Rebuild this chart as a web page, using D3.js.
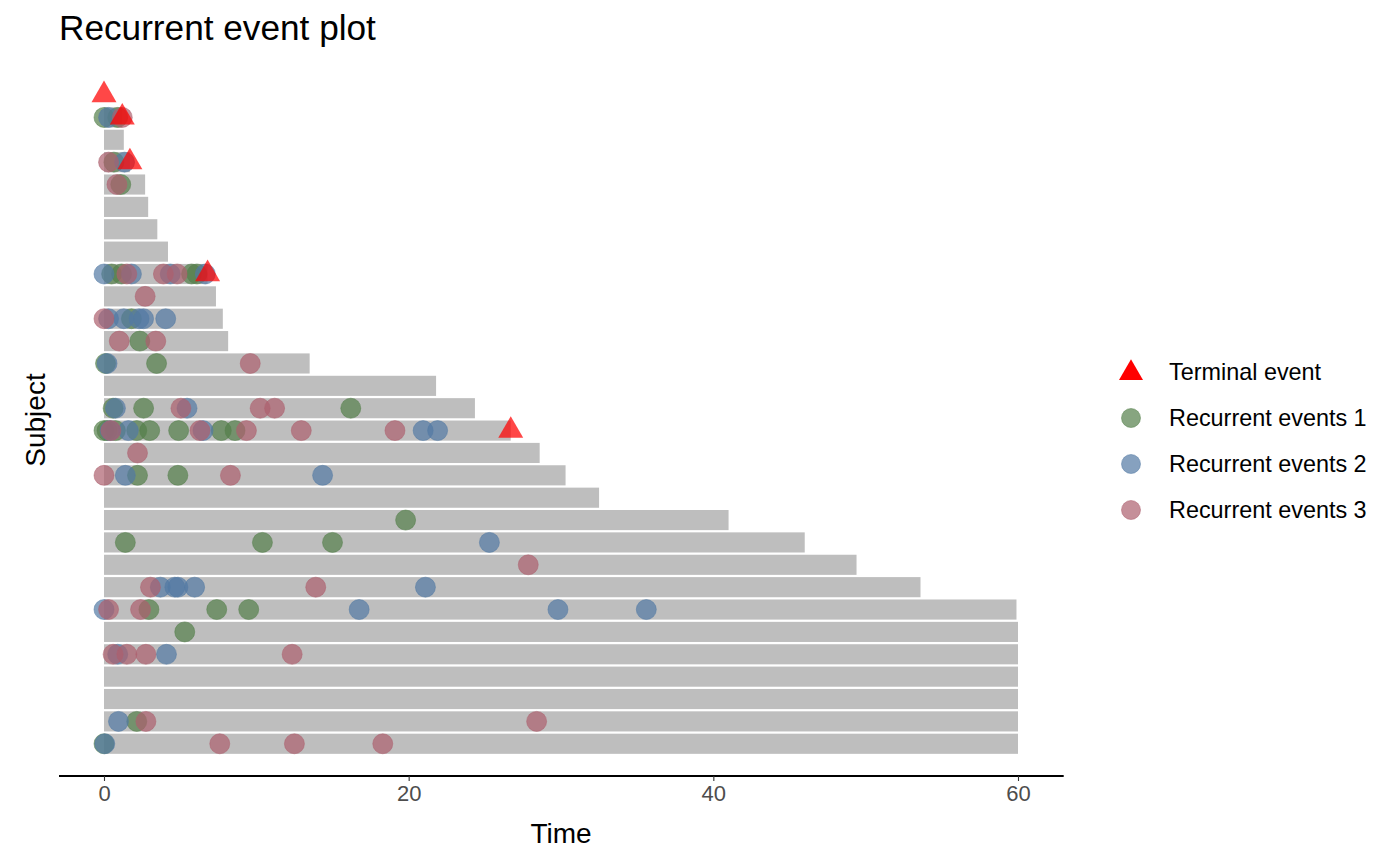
<!DOCTYPE html>
<html>
<head>
<meta charset="utf-8">
<script src="https://cdn.jsdelivr.net/npm/d3@7"></script>
<style>
  html, body { margin: 0; padding: 0; background: #fff; }
  svg text { font-family: "Liberation Sans", Arial, sans-serif; }
</style>
</head>
<body>
<svg id="chart" width="1400" height="866"></svg>
<script>
// ---- data (rows listed top to bottom) ----
const subjects = d3.range(1, 31).map(d => "S" + d);
const followUp = [0, 1.2, 1.3, 1.7, 2.7, 2.9, 3.5, 4.2, 6.8, 7.35, 7.8, 8.15, 13.5, 21.8, 24.35,
  26.7, 28.6, 30.3, 32.5, 41.0, 46.0, 49.4, 53.6, 59.9, 60, 60, 60, 60, 60, 60];
// terminal events: [row, time]
const terminal = [[0, 0], [1, 1.2], [3, 1.7], [8, 6.8], [15, 26.7]];
// recurrent events: [row, time]
const events1 = [[1, 0], [1, 0.9], [3, 0.65], [4, 1.1], [8, 0.5], [8, 1.15], [8, 5.75], [8, 6.1],
  [10, 1.8], [11, 2.35], [12, 0.1], [12, 3.45], [14, 0.6], [14, 2.6], [14, 16.2],
  [15, 0], [15, 0.2], [15, 0.75], [15, 2.15], [15, 3.0], [15, 4.9], [15, 7.7], [15, 8.6],
  [17, 2.2], [17, 4.85], [19, 19.8], [20, 1.4], [20, 10.4], [20, 15.0],
  [23, 2.95], [23, 7.4], [23, 9.5], [24, 5.3], [28, 2.15], [29, 0]];
const events2 = [[1, 0.3], [3, 1.35], [8, 0], [8, 1.8], [8, 4.35], [8, 6.65],
  [10, 0.3], [10, 1.3], [10, 2.3], [10, 2.6], [10, 4.05], [12, 0.2], [14, 0.75], [14, 5.45],
  [15, 0.4], [15, 1.6], [15, 6.5], [15, 20.95], [15, 21.9], [17, 1.4], [17, 14.35],
  [20, 25.3], [22, 3.7], [22, 4.65], [22, 4.85], [22, 5.95], [22, 21.1],
  [23, 0], [23, 16.75], [23, 29.8], [23, 35.6], [25, 0.9], [25, 4.1], [28, 0.95], [29, 0.05]];
const events3 = [[1, 1.2], [3, 0.3], [4, 0.85], [8, 1.5], [8, 3.9], [8, 4.8], [9, 2.7],
  [10, 0], [11, 1.0], [11, 3.4], [12, 9.6], [14, 5.05], [14, 10.25], [14, 11.2],
  [15, 0.45], [15, 6.3], [15, 9.35], [15, 12.95], [15, 19.1], [16, 2.2], [17, 0], [17, 8.3],
  [21, 27.85], [22, 3.05], [22, 13.9], [23, 0.3], [23, 2.4], [25, 0.6], [25, 1.5], [25, 2.75],
  [25, 12.35], [28, 2.75], [28, 28.4], [29, 7.6], [29, 12.5], [29, 18.3]];
const xTicks = [0, 20, 40, 60];
const legendLabels = ["Terminal event", "Recurrent events 1", "Recurrent events 2", "Recurrent events 3"];
const eventColors = ["#547f4a", "#5279a4", "#ad5f6e"];

// ---- layout ----
const svg = d3.select("#chart");
const x = d3.scaleLinear().domain([-3, 63]).range([58.3, 1063.7]);
const y = d3.scaleLinear().domain([-1.45, 30.45]).range([62.6, 776.2]);
const step = y(1) - y(0);
const barH = step * 0.9;

// bars
svg.append("g").selectAll("rect").data(followUp).join("rect")
  .attr("x", x(0))
  .attr("y", (d, i) => y(i) - barH / 2)
  .attr("width", d => Math.max(0, x(d) - x(0)))
  .attr("height", barH)
  .attr("fill", "#bebebe");

// recurrent events
[events1, events2, events3].forEach((ev, k) => {
  svg.append("g").selectAll("circle").data(ev).join("circle")
    .attr("cx", d => x(d[1]))
    .attr("cy", d => y(d[0]))
    .attr("r", 10)
    .attr("fill", eventColors[k])
    .attr("fill-opacity", 0.7)
    .attr("stroke", eventColors[k])
    .attr("stroke-opacity", 0.5)
    .attr("stroke-width", 1);
});

// terminal events
const tri = d3.symbol().type(d3.symbolTriangle).size(270);
svg.append("g").selectAll("path").data(terminal).join("path")
  .attr("d", tri)
  .attr("transform", d => `translate(${x(d[1])},${y(d[0])})`)
  .attr("fill", "#ff0000")
  .attr("fill-opacity", 0.72);

// x axis
const axisY = 776;
svg.append("line").attr("x1", 59).attr("x2", 1063.7).attr("y1", axisY).attr("y2", axisY)
  .attr("stroke", "#000").attr("stroke-width", 2);
const xAxis = d3.axisBottom(x).tickValues(xTicks).tickSize(5).tickPadding(4).tickFormat(d3.format("d"));
const gx = svg.append("g").attr("transform", `translate(0,${axisY})`).call(xAxis);
gx.select(".domain").remove();
gx.selectAll(".tick line").attr("stroke", "#333").attr("stroke-width", 1.1);
gx.selectAll(".tick text").attr("fill", "#4d4d4d").attr("font-size", 22)
  .attr("font-family", "Liberation Sans, Arial, sans-serif");

// axis titles
svg.append("text").attr("x", 561).attr("y", 843).attr("text-anchor", "middle")
  .attr("font-size", 28).attr("fill", "#000").text("Time");
svg.append("text").attr("transform", "translate(45,420) rotate(-90)").attr("text-anchor", "middle")
  .attr("font-size", 28).attr("fill", "#000").text("Subject");

// title
svg.append("text").attr("x", 59).attr("y", 40).attr("font-size", 35.2).attr("fill", "#000")
  .text("Recurrent event plot");

// legend
const lg = svg.append("g");
const legY = [372, 418, 464, 510];
lg.append("path").attr("d", d3.symbol().type(d3.symbolTriangle).size(250))
  .attr("transform", `translate(1131,${legY[0] + 1})`).attr("fill", "#ff0000");
eventColors.forEach((c, k) => {
  lg.append("circle").attr("cx", 1131).attr("cy", legY[k + 1]).attr("r", 9.5)
    .attr("fill", c).attr("fill-opacity", 0.7)
    .attr("stroke", c).attr("stroke-opacity", 0.5);
});
lg.selectAll("text").data(legendLabels).join("text")
  .attr("x", 1169).attr("y", (d, i) => legY[i] + 8)
  .attr("font-size", 23.4).attr("fill", "#000").text(d => d);
</script>
</body>
</html>
